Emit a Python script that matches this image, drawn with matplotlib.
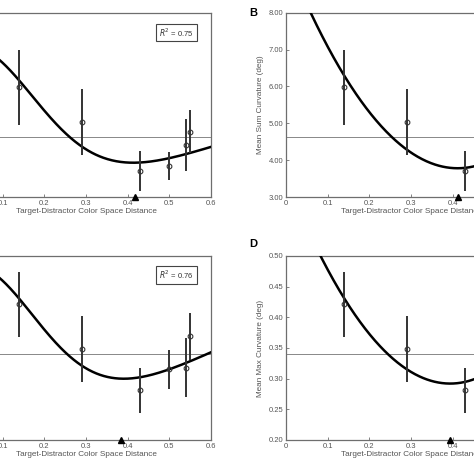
import numpy as np
import matplotlib
matplotlib.use('Agg')
import matplotlib.pyplot as plt

plt.rcParams['font.family'] = ['Liberation Sans', 'DejaVu Sans']

# Observed points (shared between the two fits of each measure)
distance = [0.14, 0.29, 0.43, 0.50, 0.54, 0.55]

sum_curv = [5.98, 5.03, 3.70, 3.85, 4.41, 4.77]
sum_err = [1.02, 0.90, 0.54, 0.38, 0.70, 0.58]
sum_baseline = 4.62

max_curv = [0.421, 0.348, 0.281, 0.315, 0.318, 0.369]
max_err = [0.053, 0.054, 0.037, 0.032, 0.048, 0.038]
max_baseline = 0.341

# Fit parameters
# gaussian + linear fits (panels A, C): y = b + c*x + a*exp(-x^2 / (2 s^2))
gauss_sum = dict(a=4.865, b=2.187, c=3.605, s=0.17)
gauss_max = dict(a=0.326, b=0.154, c=0.314, s=0.17)
# quadratic fits (panels B, D): y = k*(x - x0)^2 + y0
quad_sum = dict(k=33.9, x0=0.412, y0=3.78)
quad_max = dict(k=2.15, x0=0.394, y0=0.292)

# triangle markers (fit minimum) on the x axis
min_a, min_b, min_c, min_d = 0.418, 0.412, 0.383, 0.394

r2_a, r2_c = 0.75, 0.76

x_ticks = [0, 0.1, 0.2, 0.3, 0.4, 0.5, 0.6]
x_ticklabels = ['0', '0.1', '0.2', '0.3', '0.4', '0.5', '0.6']
sum_ticks = [3, 4, 5, 6, 7, 8]
max_ticks = [0.20, 0.25, 0.30, 0.35, 0.40, 0.45, 0.50]

GRAY = '#6e6e6e'
TXT = '#555555'


def gauss_fit(x, p):
    return p['b'] + p['c'] * x + p['a'] * np.exp(-x ** 2 / (2 * p['s'] ** 2))


def quad_fit(x, p):
    return p['k'] * (x - p['x0']) ** 2 + p['y0']


def style_axes(ax, ylim, yticks, ylabel=None):
    ax.set_xlim(0, 0.6)
    ax.set_ylim(*ylim)
    ax.set_xticks(x_ticks)
    ax.set_xticklabels(x_ticklabels)
    ax.set_yticks(yticks)
    ax.tick_params(direction='in', length=2, width=0.6, color=GRAY,
                   labelsize=5.5, labelcolor=TXT, pad=2)
    for sp in ax.spines.values():
        sp.set_color(GRAY)
        sp.set_linewidth(0.9)
    ax.set_xlabel('Target-Distractor Color Space Distance', fontsize=5.9,
                  color=TXT, labelpad=1)
    if ylabel:
        ax.set_yticklabels(['{:.2f}'.format(v) for v in yticks])
        ax.set_ylabel(ylabel, fontsize=5.9, color=TXT, labelpad=3)
    else:
        # left part of panels A and C lies outside the cropped figure
        ax.tick_params(labelleft=False)


def draw_panel(ax, y, err, base, curve_x, curve_y, xmin, ylim):
    ax.axhline(base, color='#888888', lw=0.7, zorder=1)
    ax.plot(curve_x, curve_y, color='black', lw=1.8, zorder=3)
    ax.errorbar(distance, y, yerr=err, fmt='o', ms=3.4, mfc='none',
                mec='#333333', mew=0.8, ecolor='#333333', elinewidth=1.4,
                capsize=0, zorder=4)
    ax.plot([xmin], [ylim[0]], marker='^', color='black', ms=4.5,
            clip_on=False, zorder=5)


def r2_box(ax, r2, y):
    ax.text(0.862, y, '$R^2$ = %.2f' % r2, transform=ax.transAxes,
            fontsize=5.5, ha='center', va='center', color='#333333',
            bbox=dict(boxstyle='square,pad=0.35', fc='white', ec='#444444', lw=0.8))


fig = plt.figure(figsize=(4.74, 4.74), dpi=100)

W = 250 / 474
H_top = 184.3 / 474
H_bot = 184.0 / 474
ax_a = fig.add_axes([-39 / 474, 1 - 197 / 474, W, H_top])
ax_b = fig.add_axes([286 / 474, 1 - 197 / 474, W, H_top])
ax_c = fig.add_axes([-39 / 474, 1 - 440 / 474, W, H_bot])
ax_d = fig.add_axes([286 / 474, 1 - 440 / 474, W, H_bot])

xs = np.linspace(0, 0.6, 400)

# A
draw_panel(ax_a, sum_curv, sum_err, sum_baseline, xs, gauss_fit(xs, gauss_sum),
           min_a, (3, 8))
style_axes(ax_a, (3, 8), sum_ticks)
r2_box(ax_a, r2_a, 0.893)

# B
draw_panel(ax_b, sum_curv, sum_err, sum_baseline, xs, quad_fit(xs, quad_sum),
           min_b, (3, 8))
style_axes(ax_b, (3, 8), sum_ticks, 'Mean Sum Curvature (deg)')

# C
draw_panel(ax_c, max_curv, max_err, max_baseline, xs, gauss_fit(xs, gauss_max),
           min_c, (0.2, 0.5))
style_axes(ax_c, (0.2, 0.5), max_ticks)
r2_box(ax_c, r2_c, 0.897)

# D
draw_panel(ax_d, max_curv, max_err, max_baseline, xs, quad_fit(xs, quad_max),
           min_d, (0.2, 0.5))
style_axes(ax_d, (0.2, 0.5), max_ticks, 'Mean Max Curvature (deg)')

fig.text(253 / 474, 1 - 13 / 474, 'B', fontsize=8, fontweight='bold',
         ha='center', va='center')
fig.text(253 / 474, 1 - 244 / 474, 'D', fontsize=8, fontweight='bold',
         ha='center', va='center')

fig.savefig('out.png', dpi=100)
